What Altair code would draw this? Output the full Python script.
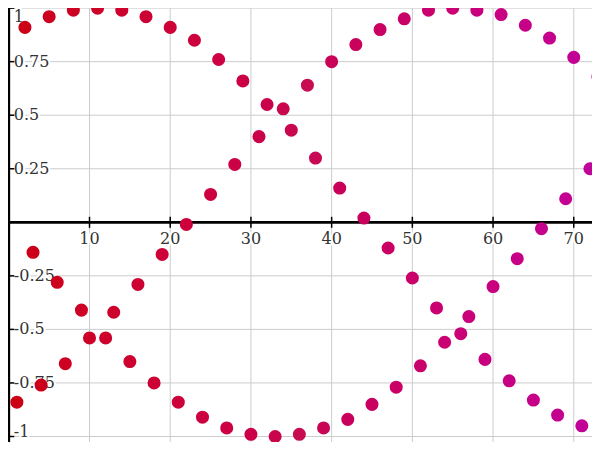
import altair as alt
import pandas as pd

x_values = list(range(1, 74))
y_values = [
    -0.84, 0.91, -0.14, -0.76, 0.96, -0.28, -0.66, 0.99, -0.41, -0.54,
    1.00, -0.54, -0.42, 0.99, -0.65, -0.29, 0.96, -0.75, -0.15, 0.91,
    -0.84, -0.01, 0.85, -0.91, 0.13, 0.76, -0.96, 0.27, 0.66, -0.99,
    0.40, 0.55, -1.00, 0.53, 0.43, -0.99, 0.64, 0.30, -0.96, 0.75,
    0.16, -0.92, 0.83, 0.02, -0.85, 0.90, -0.12, -0.77, 0.95, -0.26,
    -0.67, 0.99, -0.40, -0.56, 1.00, -0.52, -0.44, 0.99, -0.64, -0.30,
    0.97, -0.74, -0.17, 0.92, -0.83, -0.03, 0.86, -0.90, 0.11, 0.77,
    -0.95, 0.25, 0.68,
]

x_ticks = [10, 20, 30, 40, 50, 60, 70]
x_labels = ["10", "20", "30", "40", "50", "60", "70"]
y_ticks = [1, 0.75, 0.5, 0.25, -0.25, -0.5, -0.75, -1]
y_labels = ["1", "0.75", "0.5", "0.25", "-0.25", "-0.5", "-0.75", "-1"]

points = pd.DataFrame({"x": x_values, "y": y_values})
xgrid = pd.DataFrame({"v": x_ticks, "label": x_labels})
ygrid = pd.DataFrame({"v": y_ticks, "label": y_labels})
origin = pd.DataFrame({"v": [0]})

xs = alt.Scale(domain=[-0.1, 72.26], nice=False, zero=False)
ys = alt.Scale(domain=[-1.0257, 1.0005], nice=False, zero=False)

FONT = "DejaVu Serif"
FONT_SIZE = 16
GRID = "#cccccc"

grid_x = alt.Chart(xgrid).mark_rule(color=GRID, strokeWidth=1).encode(
    x=alt.X("v:Q", scale=xs, axis=None)
)
grid_y = alt.Chart(ygrid).mark_rule(color=GRID, strokeWidth=1).encode(
    y=alt.Y("v:Q", scale=ys, axis=None)
)

axis_x = alt.Chart(origin).mark_rule(color="black", strokeWidth=2.7).encode(
    y=alt.Y("v:Q", scale=ys, axis=None)
)
axis_y = alt.Chart(origin).mark_rule(color="black", strokeWidth=2.7).encode(
    x=alt.X("v:Q", scale=xs, axis=None)
)

ticks_x = alt.Chart(xgrid).mark_rule(
    color="black", strokeWidth=1.5, yOffset=-5.5, y2Offset=5.5
).encode(
    x=alt.X("v:Q", scale=xs, axis=None),
    y=alt.Y(datum=0, scale=ys, axis=None),
    y2=alt.Y2(datum=0),
)
ticks_y = alt.Chart(ygrid).mark_rule(
    color="black", strokeWidth=1.5, xOffset=-5.5, x2Offset=5.5
).encode(
    y=alt.Y("v:Q", scale=ys, axis=None),
    x=alt.X(datum=0, scale=xs, axis=None),
    x2=alt.X2(datum=0),
)


def x_text(**style):
    return alt.Chart(xgrid).mark_text(
        align="center", baseline="middle", dy=17, font=FONT, fontSize=FONT_SIZE, **style
    ).encode(
        x=alt.X("v:Q", scale=xs, axis=None),
        y=alt.Y(datum=0, scale=ys, axis=None),
        text="label:N",
    )


# the "1" and "-1" sit on the top and bottom edges, so they are nudged inward
Y_LABEL_KINDS = {
    "top": (alt.datum.v == 1, "top", 1),
    "mid": ((alt.datum.v < 1) & (alt.datum.v > -1), "middle", 0),
    "bottom": (alt.datum.v == -1, "bottom", 4),
}


def y_text(kind, **style):
    cond, baseline, dy = Y_LABEL_KINDS[kind]
    return alt.Chart(ygrid).transform_filter(cond).mark_text(
        align="left", baseline=baseline, dx=5, dy=dy,
        font=FONT, fontSize=FONT_SIZE, **style
    ).encode(
        y=alt.Y("v:Q", scale=ys, axis=None),
        x=alt.X(datum=0, scale=xs, axis=None),
        text="label:N",
    )


halo = dict(color="white", stroke="white", strokeWidth=4, strokeJoin="round")
ink = dict(color="#333333")

dots = alt.Chart(points).mark_circle(size=170, opacity=1, clip=True).encode(
    x=alt.X("x:Q", scale=xs, axis=None),
    y=alt.Y("y:Q", scale=ys, axis=None),
    color=alt.Color(
        "x:Q",
        scale=alt.Scale(domain=[1, 37, 73], range=["#cc0014", "#c80c52", "#c0089a"]),
        legend=None,
    ),
)

labels = [x_text(**halo)] + [y_text(k, **halo) for k in Y_LABEL_KINDS]
labels += [x_text(**ink)] + [y_text(k, **ink) for k in Y_LABEL_KINDS]

chart = (
    alt.layer(
        grid_x, grid_y,
        *labels,
        axis_x, axis_y, ticks_x, ticks_y,
        dots,
    )
    .properties(
        width=584, height=434, padding=0,
        autosize=alt.AutoSizeParams(type="none"), background="white",
    )
    .configure_view(strokeWidth=0)
)

chart.save("out.html", embed_options={"renderer": "svg", "actions": False})
